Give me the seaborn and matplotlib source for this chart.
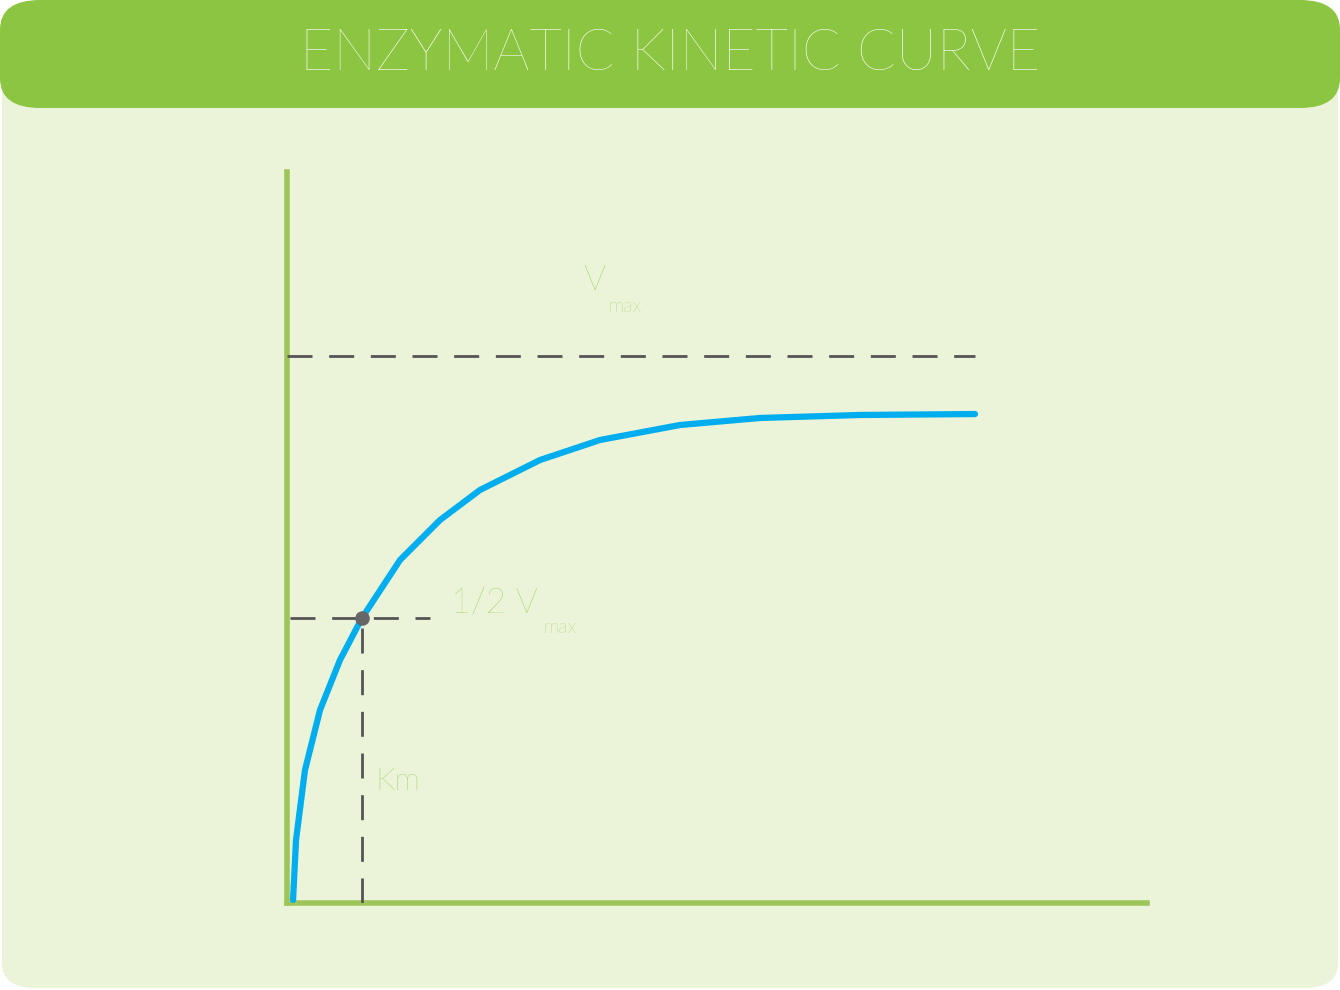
import matplotlib
matplotlib.use("Agg")
import matplotlib.pyplot as plt
from matplotlib.patches import FancyBboxPatch
import seaborn as sns
import pandas as pd

substrate = [0.70, 1.05, 2.09, 3.84, 6.16, 8.72, 13.14, 17.79, 22.44, 29.42, 36.40, 45.70, 55.00, 66.63, 80.00]
velocity = [0.41, 8.62, 18.19, 26.40, 33.24, 38.99, 46.92, 52.39, 56.50, 60.60, 63.34, 65.39, 66.35, 66.76, 66.89]
vmax_level = 74.83
half_vmax = 38.99
km = 8.72

sns.set_style("white")
plt.rcParams['font.family'] = ['Lato', 'DejaVu Sans']
W, H = 1340, 990
fig = plt.figure(figsize=(13.4, 9.9), dpi=100)
fig.patch.set_facecolor("white")
green = "#8BC541"
axis_green = "#9DC55A"
fig.patches.append(FancyBboxPatch((2/W, 2/H), 1336/W, 986/H, boxstyle="round,pad=0,rounding_size=0.025",
                                  transform=fig.transFigure, facecolor="#EBF4D9", edgecolor="none", zorder=-3))
fig.patches.append(FancyBboxPatch((0, (H-108)/H), 1, 108/H, boxstyle="round,pad=0,rounding_size=0.03",
                                  transform=fig.transFigure, facecolor=green, edgecolor="none", zorder=-2))
fig.text(0.5, (H-54)/H, "ENZYMATIC KINETIC CURVE", color="white", fontsize=41, fontweight="light",
         ha="center", va="center")

ax = fig.add_axes([287/W, (H-903)/H, 860/W, 731/H])
ax.set_facecolor("none")
ax.set_xlim(0, 100)
ax.set_ylim(0, 100)
for s in ["top", "right"]:
    ax.spines[s].set_visible(False)
for s in ["left", "bottom"]:
    ax.spines[s].set_color(axis_green)
    ax.spines[s].set_linewidth(4)
ax.set_xticks([]); ax.set_yticks([])

df = pd.DataFrame({"S": substrate, "V": velocity})
sns.lineplot(data=df, x="S", y="V", ax=ax, color="#00AEEF", linewidth=4.5, zorder=4)

dash = dict(color="#555555", linewidth=2, dashes=(9, 6), zorder=3)
ax.plot([0, 80], [vmax_level, vmax_level], **dash)
ax.plot([0.35, 16.6], [half_vmax, half_vmax], **dash)
ax.plot([km, km], [0, half_vmax], **dash)
ax.scatter([km], [half_vmax], s=90, color="#666666", zorder=5)

lt = dict(color=green, fontweight="light")
ax.text(34.4, vmax_level + 9, "V", fontsize=25, ha="left", va="baseline", **lt)
ax.text(37.3, vmax_level + 8, "max", fontsize=14, ha="left", va="top", **lt)
ax.text(19.1, half_vmax + 0.8, "1/2 V", fontsize=25, ha="left", va="baseline", **lt)
ax.text(29.8, half_vmax - 0.2, "max", fontsize=14, ha="left", va="top", **lt)
ax.text(10.3, 15.5, "Km", fontsize=23, ha="left", va="baseline", **lt)

ax.set_xlabel("Substrate Concentration [S]", fontsize=25, labelpad=6, **lt)
ax.set_ylabel("Reaction Velocity (V)", fontsize=25, **lt)
ax.yaxis.set_label_coords(-0.085, 0.5)
fig.savefig("out.png", dpi=100, facecolor=fig.get_facecolor())
